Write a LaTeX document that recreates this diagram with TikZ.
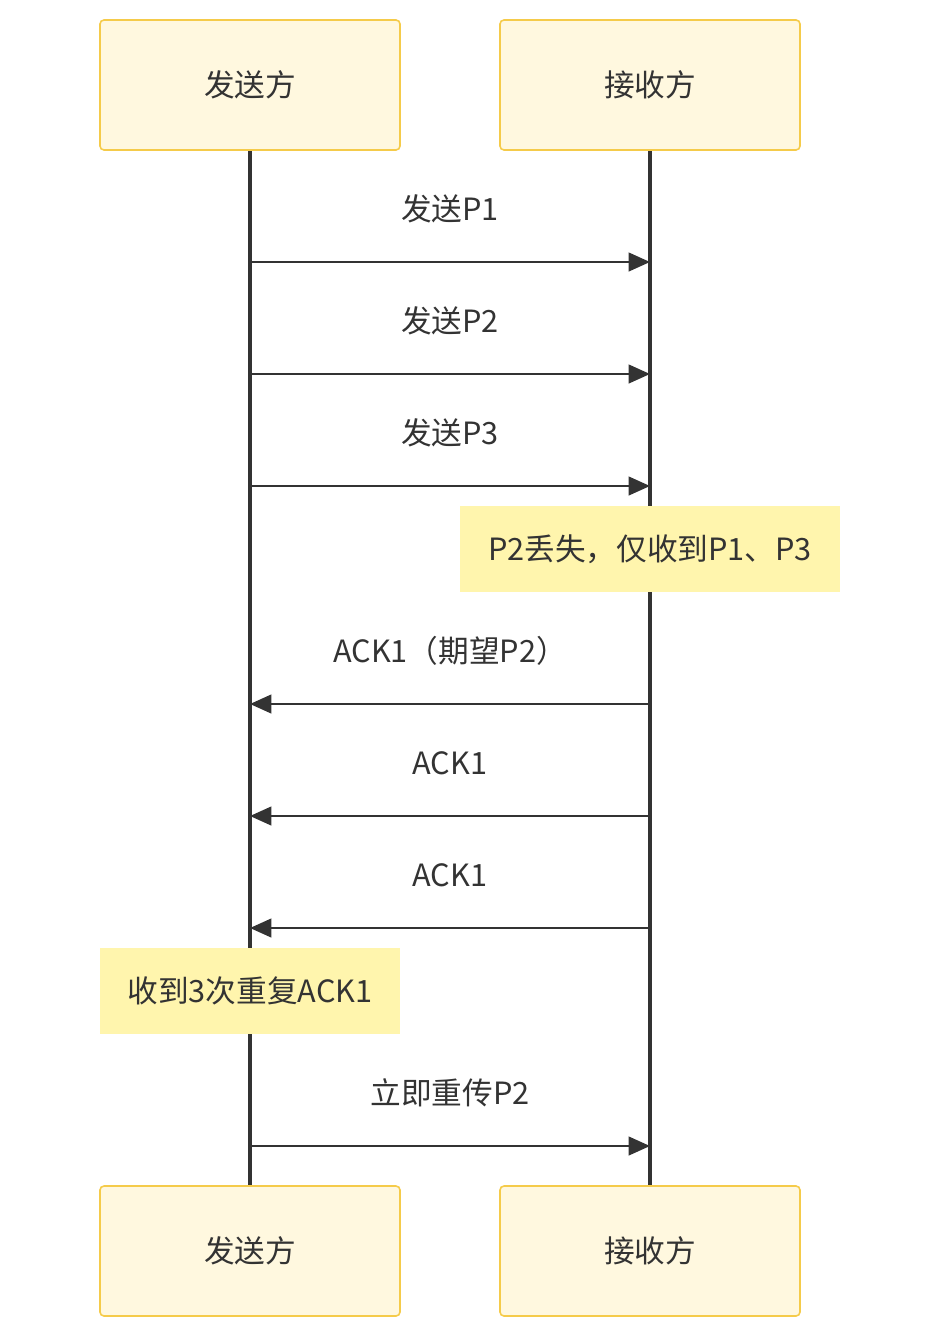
\documentclass[tikz,border=0pt]{standalone}
\usepackage{fontspec}
\setmainfont{Noto Sans CJK SC}
\usetikzlibrary{arrows.meta}
\definecolor{boxfill}{HTML}{FFF8DF}
\definecolor{boxline}{HTML}{F5CB4A}
\definecolor{notefill}{HTML}{FFF5AD}
\definecolor{ink}{HTML}{333333}
\tikzset{
  actor/.style={draw=boxline,fill=boxfill,line width=1.2pt,rounded corners=3pt,minimum width=225pt,minimum height=97.5pt,font=\fontsize{23}{27}\selectfont,text=ink},
  note/.style={fill=notefill,font=\fontsize{23}{27}\selectfont,text=ink,inner sep=0pt},
  msg/.style={draw=ink,line width=1.6pt,-{Triangle[length=16pt,width=14pt]}},
  lbl/.style={font=\fontsize{23}{27}\selectfont,text=ink},
  life/.style={draw=ink,line width=2.6pt}
}
\begin{document}
\begin{tikzpicture}[x=0.75pt,y=-0.75pt]
\useasboundingbox (0,0) rectangle (940,1338);
\coordinate (s0) at (250,150); \coordinate (s1) at (250,1186);
\coordinate (r0) at (650,150); \coordinate (r1) at (650,1186);
\draw[life] (s0) -- (s1);
\draw[life] (r0) -- (r1);
\node[actor] (st) at (250,85) {发送方};
\node[actor] (rt) at (650,85) {接收方};
\node[actor] (sb) at (250,1251) {发送方};
\node[actor] (rb) at (650,1251) {接收方};
\node[note,minimum width=285pt,minimum height=64.5pt] (n1) at (650,549) {P2丢失，仅收到P1、P3};
\node[note,minimum width=225pt,minimum height=64.5pt] (n2) at (250,991) {收到3次重复ACK1};
\foreach \y/\t/\d in {262/发送P1/r,374/发送P2/r,486/发送P3/r,704/ACK1（期望P2）/l,816/ACK1/l,928/ACK1/l,1146/立即重传P2/r}{
  \coordinate (a\y) at (250,\y); \coordinate (b\y) at (650,\y);
  \node[lbl] (l\y) at (450,\y-53) {\t};
  \if r\d \draw[msg] (a\y) -- (b\y); \else \draw[msg] (b\y) -- (a\y); \fi
}
\end{tikzpicture}
\end{document}
